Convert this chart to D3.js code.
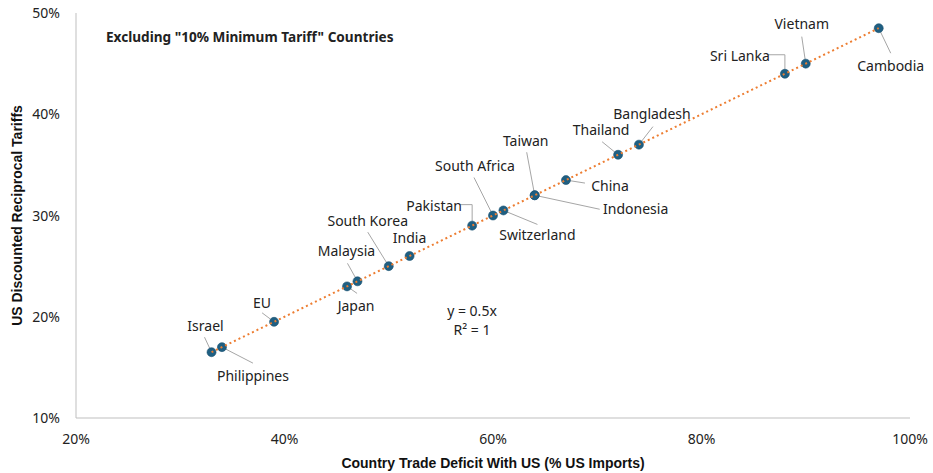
<!DOCTYPE html>
<html>
<head>
<meta charset="utf-8">
<title>Trade deficit vs discounted reciprocal tariffs</title>
<script src="https://d3js.org/d3.v7.min.js"></script>
<style>
  body { margin: 0; background: #fff; }
  text { font-family: "Noto Sans", "Open Sans", sans-serif; fill: #222; }
  .axisTitle { font-family: "Liberation Sans", Arial, sans-serif; font-weight: bold; font-size: 14px; fill: #111; }
</style>
</head>
<body>
<div id="chart"></div>
<script>
// Data (percent)
const countries = ["Israel","Philippines","EU","Japan","Malaysia","South Korea","India","Pakistan",
  "South Africa","Switzerland","Taiwan","Indonesia","China","Thailand","Bangladesh","Sri Lanka","Vietnam","Cambodia"];
const deficit = [33, 34, 39, 46, 47, 50, 52, 58, 60, 61, 64, 64, 67, 72, 74, 88, 90, 97];
const tariff  = [16.5, 17, 19.5, 23, 23.5, 25, 26, 29, 30, 30.5, 32, 32, 33.5, 36, 37, 44, 45, 48.5];
const xTicks = [20, 40, 60, 80, 100];
const yTicks = [10, 20, 30, 40, 50];
const slope = 0.5;

// Label placement: text centre offset from point, and leader start (relative to point); null = no leader
const labelLayout = {
  "Israel":       {dx: -6,  dy: -26, lx: -7,  ly: -15},
  "Philippines":  {dx: 31,  dy: 29,  lx: 31,  ly: 16},
  "EU":           {dx: -12, dy: -19, lx: -12, ly: -9},
  "Japan":        {dx: 9,   dy: 20,  lx: 10,  ly: 7},
  "Malaysia":     {dx: -11, dy: -30, lx: -10, ly: -18},
  "South Korea":  {dx: -21, dy: -45, lx: -21, ly: -34},
  "India":        {dx: 0,   dy: -18, lx: null},
  "Pakistan":     {dx: -38, dy: -20, lx: -7,  ly: -21, elbow: true},
  "South Africa": {dx: -18, dy: -50, lx: -19, ly: -38},
  "Switzerland":  {dx: 34,  dy: 25,  lx: 34,  ly: 14},
  "Taiwan":       {dx: -9,  dy: -54, lx: -8,  ly: -43},
  "Indonesia":    {dx: 101, dy: 14,  lx: 65,  ly: 14},
  "China":        {dx: 44,  dy: 6,   lx: 19,  ly: 3},
  "Thailand":     {dx: -17, dy: -25, lx: -16, ly: -13},
  "Bangladesh":   {dx: 13,  dy: -31, lx: 14,  ly: -18},
  "Sri Lanka":    {dx: -45, dy: -18, lx: -12, ly: -19, elbow: true},
  "Vietnam":      {dx: -4,  dy: -40, lx: -4,  ly: -27},
  "Cambodia":     {dx: 12,  dy: 38,  lx: 12,  ly: 25}
};

const width = 933, height = 473;
const margin = {top: 13, right: 23, bottom: 55, left: 76};

const svg = d3.select("#chart").append("svg")
  .attr("width", width)
  .attr("height", height);

const x = d3.scaleLinear().domain([20, 100]).range([margin.left, width - margin.right]);
const y = d3.scaleLinear().domain([10, 50]).range([height - margin.bottom, margin.top]);

// Axis lines
svg.append("line")
  .attr("x1", x(20)).attr("x2", x(100))
  .attr("y1", y(10)).attr("y2", y(10))
  .attr("stroke", "#bfbfbf").attr("stroke-width", 1);
svg.append("line")
  .attr("x1", x(20)).attr("x2", x(20))
  .attr("y1", y(10)).attr("y2", y(50))
  .attr("stroke", "#bfbfbf").attr("stroke-width", 1);

// Tick labels
svg.selectAll(".xt").data(xTicks).enter().append("text")
  .attr("x", d => x(d)).attr("y", y(10) + 26)
  .attr("text-anchor", "middle").attr("font-size", 14)
  .text(d => d + "%");
svg.selectAll(".yt").data(yTicks).enter().append("text")
  .attr("x", margin.left - 16).attr("y", d => y(d) + 5)
  .attr("text-anchor", "end").attr("font-size", 14)
  .text(d => d + "%");

// Axis titles
svg.append("text").attr("class", "axisTitle")
  .attr("x", (x(20) + x(100)) / 2).attr("y", height - 5)
  .attr("text-anchor", "middle")
  .text("Country Trade Deficit With US (% US Imports)");
svg.append("text").attr("class", "axisTitle")
  .attr("transform", `translate(22,${(y(10) + y(50)) / 2}) rotate(-90)`)
  .attr("text-anchor", "middle")
  .text("US Discounted Reciprocal Tariffs");

// Inner title
svg.append("text")
  .attr("x", 106).attr("y", 42)
  .attr("font-size", 13.6).attr("font-weight", "bold")
  .text("Excluding \"10% Minimum Tariff\" Countries");

// Leader lines
const pts = countries.map((c, i) => ({name: c, dx: deficit[i], ty: tariff[i]}));
pts.forEach(p => {
  const L = labelLayout[p.name];
  if (L.lx === null) return;
  const px = x(p.dx), py = y(p.ty);
  let path;
  if (L.elbow) {
    path = `M${px + L.lx - 6},${py + L.ly} L${px},${py + L.ly} L${px},${py}`;
  } else {
    path = `M${px + L.lx},${py + L.ly} L${px},${py}`;
  }
  svg.append("path").attr("d", path)
    .attr("fill", "none").attr("stroke", "#a6a6a6").attr("stroke-width", 1);
});

// Points
svg.selectAll("circle.pt").data(pts).enter().append("circle")
  .attr("class", "pt")
  .attr("cx", d => x(d.dx)).attr("cy", d => y(d.ty))
  .attr("r", 4.5)
  .attr("fill", "#1f5f82")
  .attr("stroke", "#1a5070").attr("stroke-width", 0.6);

// Trendline y = 0.5x over data range
const xmin = d3.min(deficit), xmax = d3.max(deficit);
svg.append("line")
  .attr("x1", x(xmin)).attr("y1", y(slope * xmin))
  .attr("x2", x(xmax)).attr("y2", y(slope * xmax))
  .attr("stroke", "#ed7d31").attr("stroke-width", 2)
  .attr("stroke-dasharray", "2,3");

// Labels
svg.selectAll("text.lbl").data(pts).enter().append("text")
  .attr("class", "lbl")
  .attr("x", d => x(d.dx) + labelLayout[d.name].dx)
  .attr("y", d => y(d.ty) + labelLayout[d.name].dy + 5)
  .attr("text-anchor", "middle")
  .attr("font-size", 14)
  .text(d => d.name);

// Equation
svg.append("text").attr("x", 472).attr("y", 316)
  .attr("text-anchor", "middle").attr("font-size", 14)
  .text("y = 0.5x");
svg.append("text").attr("x", 472).attr("y", 335)
  .attr("text-anchor", "middle").attr("font-size", 14)
  .text("R\u00B2 = 1");
</script>
</body>
</html>
